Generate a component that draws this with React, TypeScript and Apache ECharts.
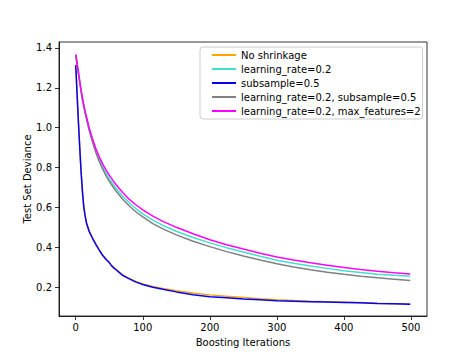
import React, { useEffect, useRef } from "react";
import * as echarts from "echarts";

const iters = [0, 2, 4, 6, 8, 10, 12, 14, 16, 20, 25, 30, 35, 40, 45, 50, 53, 56, 60, 70, 80, 90, 100, 115, 130, 150, 175, 200, 225, 250, 275, 300, 325, 350, 375, 400, 425, 450, 475, 499];

const noShrinkage = [1.315, 1.17, 1.03, 0.9, 0.78, 0.68, 0.605, 0.56, 0.525, 0.482, 0.447, 0.417, 0.388, 0.362, 0.341, 0.324, 0.312, 0.302, 0.29, 0.262, 0.243, 0.228, 0.216, 0.203, 0.193, 0.182, 0.170, 0.161, 0.154, 0.148, 0.142, 0.137, 0.133, 0.129, 0.127, 0.125, 0.122, 0.119, 0.117, 0.115];
const subsample = [1.315, 1.17, 1.03, 0.9, 0.78, 0.68, 0.603, 0.557, 0.522, 0.48, 0.445, 0.415, 0.386, 0.36, 0.34, 0.323, 0.309, 0.298, 0.287, 0.259, 0.241, 0.225, 0.213, 0.199, 0.189, 0.176, 0.162, 0.152, 0.146, 0.140, 0.136, 0.131, 0.129, 0.127, 0.125, 0.123, 0.121, 0.118, 0.116, 0.114];
const lr02 = [1.365, 1.32, 1.275, 1.23, 1.185, 1.145, 1.11, 1.078, 1.05, 0.995, 0.937, 0.886, 0.843, 0.806, 0.774, 0.745, 0.73, 0.715, 0.697, 0.656, 0.622, 0.593, 0.568, 0.536, 0.51, 0.48, 0.449, 0.422, 0.398, 0.376, 0.355, 0.335, 0.32, 0.306, 0.294, 0.282, 0.273, 0.265, 0.259, 0.254];
const lr02Sub = [1.36, 1.315, 1.27, 1.225, 1.18, 1.14, 1.105, 1.073, 1.043, 0.987, 0.927, 0.875, 0.831, 0.793, 0.76, 0.731, 0.716, 0.701, 0.682, 0.641, 0.607, 0.577, 0.552, 0.519, 0.492, 0.462, 0.43, 0.403, 0.378, 0.356, 0.336, 0.317, 0.301, 0.287, 0.275, 0.264, 0.255, 0.247, 0.240, 0.233];
const lr02MaxFeat = [1.368, 1.33, 1.28, 1.235, 1.19, 1.15, 1.115, 1.083, 1.055, 1.0, 0.945, 0.895, 0.855, 0.82, 0.79, 0.762, 0.748, 0.733, 0.715, 0.675, 0.64, 0.612, 0.588, 0.556, 0.53, 0.5, 0.468, 0.438, 0.413, 0.391, 0.37, 0.351, 0.336, 0.322, 0.31, 0.298, 0.288, 0.279, 0.272, 0.266];

const seriesNames = ["No shrinkage", "learning_rate=0.2", "subsample=0.5", "learning_rate=0.2, subsample=0.5", "learning_rate=0.2, max_features=2"];
const seriesValues = [noShrinkage, lr02, subsample, lr02Sub, lr02MaxFeat];
const seriesColors = ["#FFA500", "#40E0D0", "#0000FF", "#808080", "#FF00FF"];

const xTicks = [0, 100, 200, 300, 400, 500];
const yTicks = [0.2, 0.4, 0.6, 0.8, 1.0, 1.2, 1.4];

const FONT = "DejaVu Sans";

export default function App() {
  const ref = useRef<HTMLDivElement>(null);
  useEffect(() => {
    if (!ref.current) return;
    const chart = echarts.init(ref.current, undefined, { renderer: "svg" });
    chart.setOption({
      animation: false,
      backgroundColor: "#fff",
      textStyle: { fontFamily: FONT },
      grid: { left: 59, right: 47, top: 42, bottom: 39, show: true, borderColor: "#000", borderWidth: 0.8, backgroundColor: "#fff" },
      legend: {
        orient: "vertical",
        left: 200,
        top: 47,
        padding: [3, 2, 3, 11],
        itemWidth: 24,
        itemHeight: 12,
        itemGap: 4,
        itemStyle: { opacity: 0 },
        backgroundColor: "rgba(255,255,255,0.8)",
        borderColor: "#cccccc",
        borderWidth: 1,
        borderRadius: 3,
        textStyle: { fontFamily: FONT, fontSize: 10, color: "#000" },
        data: seriesNames,
      },
      xAxis: {
        type: "value",
        min: -24.95,
        max: 523.95,
        name: "Boosting Iterations",
        nameLocation: "middle",
        nameGap: 21,
        nameMoveOverlap: false,
        nameTextStyle: { fontFamily: FONT, fontSize: 10, color: "#000" },
        axisLine: { show: true, onZero: false, lineStyle: { color: "#000", width: 0.8 } },
        axisTick: { show: true, length: 4, lineStyle: { color: "#000", width: 0.8 }, customValues: xTicks },
        axisLabel: { fontFamily: FONT, fontSize: 10, color: "#000", margin: 6, customValues: xTicks, formatter: (v: number) => String(v) },
        splitLine: { show: false },
      },
      yAxis: {
        type: "value",
        min: 0.055,
        max: 1.43,
        name: "Test Set Deviance",
        nameLocation: "middle",
        nameGap: 27,
        nameMoveOverlap: false,
        nameTextStyle: { fontFamily: FONT, fontSize: 10, color: "#000" },
        axisLine: { show: true, onZero: false, lineStyle: { color: "#000", width: 0.8 } },
        axisTick: { show: true, length: 4, lineStyle: { color: "#000", width: 0.8 }, customValues: yTicks },
        axisLabel: { fontFamily: FONT, fontSize: 10, color: "#000", margin: 7, customValues: yTicks, formatter: (v: number) => v.toFixed(1) },
        splitLine: { show: false },
      },
      series: seriesNames.map((name, i) => ({
        name,
        type: "line",
        symbol: "none",
        color: seriesColors[i],
        lineStyle: { width: 1.5, color: seriesColors[i] },
        data: iters.map((x, j) => [x, seriesValues[i][j]]),
      })),
    });
    return () => chart.dispose();
  }, []);
  return <div ref={ref} style={{ position: "fixed", left: 0, top: 0, width: 474, height: 355 }} />;
}
